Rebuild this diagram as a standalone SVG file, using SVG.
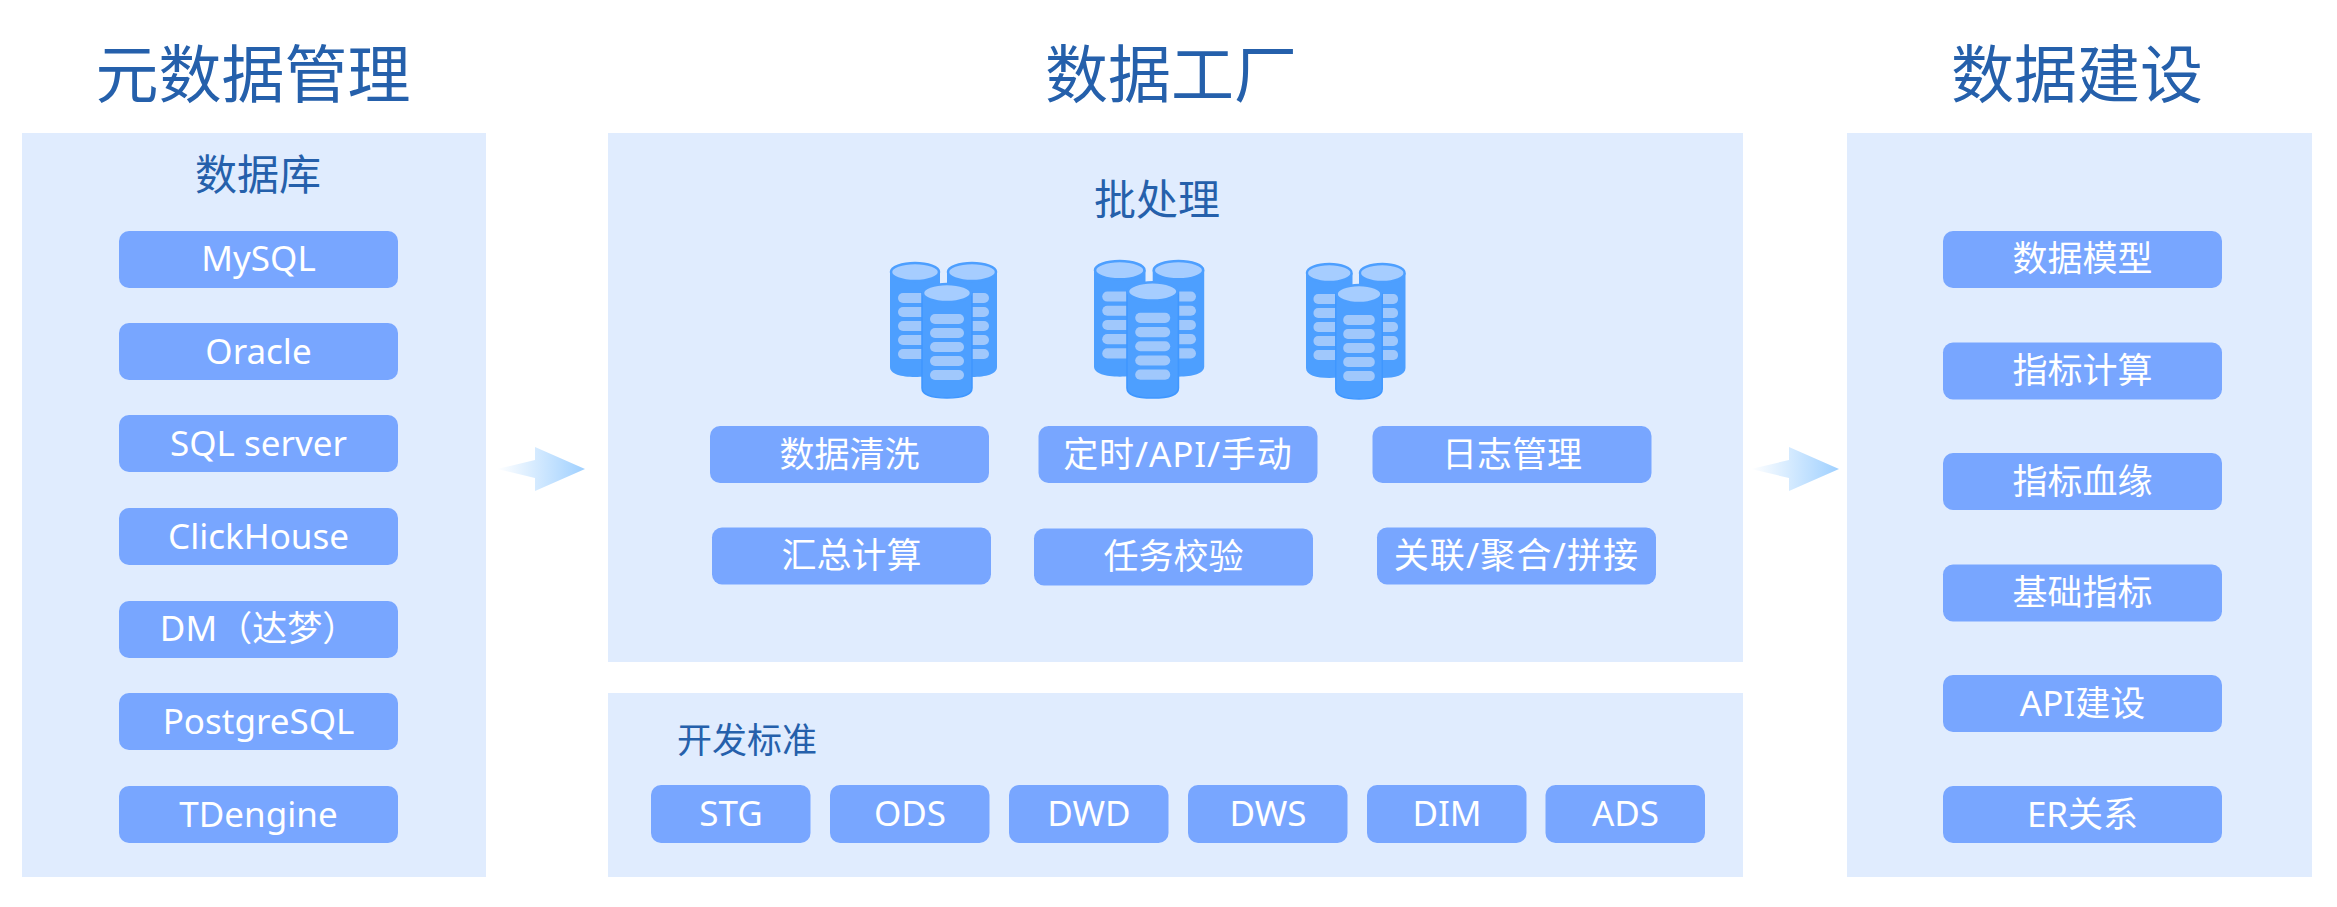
<svg xmlns="http://www.w3.org/2000/svg" width="2337" height="907" viewBox="0 0 2337 907">
<style>
text{font-family:"Noto Sans","Noto Sans CJK SC",sans-serif;text-anchor:middle}
.title{font-size:63px;fill:#2560ab;font-family:"Noto Sans CJK SC",sans-serif}
.sub{font-size:42px;fill:#2560ab;font-family:"Noto Sans CJK SC",sans-serif}
.sub2{font-size:35px;fill:#2560ab;font-family:"Noto Sans CJK SC",sans-serif}
.lbl{font-size:35px;fill:#fff}
.panel{fill:#e0ecfe}
.box{fill:#78a6ff}
.cyl{fill:#4d9fff}
.cylf{fill:#4d9fff;stroke:#3f97ff;stroke-width:1.5}
.top{fill:#a6cdff;stroke:#4d9fff;stroke-width:2.5}
.bar{fill:#a0c8fc}
</style>
<defs>
<linearGradient id="ag" x1="0" y1="0" x2="1" y2="0"><stop offset="0" stop-color="#fff"/><stop offset="1" stop-color="#9fd0ff"/></linearGradient>
<path id="arrow" d="M497 469L535 460V447L585 469L535 491V478Z" fill="url(#ag)"/>
<rect id="b" width="279" height="57" rx="10" class="box"/>
<rect id="s" width="159.500" height="58" rx="10" class="box"/>
<g id="backc">
<path class="cyl" d="M0 10V105C0 112 11 115 25 115S50 112 50 105V10Z"/>
<ellipse class="top" cx="25" cy="10" rx="24" ry="9"/>
<g class="bar"><rect x="8" y="31" width="34" height="10" rx="5"/><rect x="8" y="45" width="34" height="10" rx="5"/><rect x="8" y="59" width="34" height="10" rx="5"/><rect x="8" y="73" width="34" height="10" rx="5"/><rect x="8" y="87" width="34" height="10" rx="5"/></g>
</g>
<g id="db">
<use href="#backc" x="0" y="0"/>
<use href="#backc" x="57" y="0"/>
<path class="cylf" d="M32 31V126C32 133 43 136 57 136S82 133 82 126V31Z"/>
<ellipse class="top" cx="57" cy="31" rx="24" ry="9"/>
<g class="bar"><rect x="40" y="52" width="34" height="10" rx="5"/><rect x="40" y="66" width="34" height="10" rx="5"/><rect x="40" y="80" width="34" height="10" rx="5"/><rect x="40" y="94" width="34" height="10" rx="5"/><rect x="40" y="108" width="34" height="10" rx="5"/></g>
</g>
</defs>
<rect width="2337" height="907" fill="#fff"/>
<g id="panels">
<rect class="panel" x="22" y="133" width="464" height="744"/>
<rect class="panel" x="608" y="133" width="1135" height="529"/>
<rect class="panel" x="608" y="693" width="1135" height="184"/>
<rect class="panel" x="1847" y="133" width="465" height="744"/>
</g>
<g id="titles">
<text class="title" x="253" y="97">元数据管理</text>
<text class="title" x="1171" y="97">数据工厂</text>
<text class="title" x="2077" y="97">数据建设</text>
<text class="sub" x="258" y="190">数据库</text>
<text class="sub" x="1157" y="215">批处理</text>
<text class="sub2" x="747" y="753">开发标准</text>
</g>
<g id="connectors">
<use href="#arrow"/>
<use href="#arrow" x="1254"/>
</g>
<g id="n-mysql"><use href="#b" x="119" y="231"/><text class="lbl" x="258.500" y="271">MySQL</text></g>
<g id="n-oracle"><use href="#b" x="119" y="323"/><text class="lbl" x="258.500" y="364">Oracle</text></g>
<g id="n-sqlserver"><use href="#b" x="119" y="415"/><text class="lbl" x="258.500" y="456">SQL server</text></g>
<g id="n-clickhouse"><use href="#b" x="119" y="508"/><text class="lbl" x="258.500" y="549">ClickHouse</text></g>
<g id="n-dm"><use href="#b" x="119" y="601"/><text class="lbl" x="258.500" y="641">DM（达梦）</text></g>
<g id="n-postgresql"><use href="#b" x="119" y="693"/><text class="lbl" x="258.500" y="734">PostgreSQL</text></g>
<g id="n-tdengine"><use href="#b" x="119" y="786"/><text class="lbl" x="258.500" y="827">TDengine</text></g>
<g id="db1"><use href="#db" transform="translate(890 262)"/></g>
<g id="db2"><use href="#db" transform="translate(1094 260) scale(1.03 1.015)"/></g>
<g id="db3"><use href="#db" transform="translate(1306 263) scale(0.93 1)"/></g>
<g id="n-clean"><use href="#b" x="710" y="426"/><text class="lbl" x="849.500" y="467">数据清洗</text></g>
<g id="n-sched"><use href="#b" x="1038.500" y="426"/><text class="lbl" x="1178" y="467" letter-spacing="0.900">定时/API/手动</text></g>
<g id="n-log"><use href="#b" x="1372.500" y="426"/><text class="lbl" x="1512" y="467">日志管理</text></g>
<g id="n-sum"><use href="#b" x="712" y="527.500"/><text class="lbl" x="851.500" y="568">汇总计算</text></g>
<g id="n-check"><use href="#b" x="1034" y="528.500"/><text class="lbl" x="1173.500" y="569">任务校验</text></g>
<g id="n-join"><use href="#b" x="1377" y="527.500"/><text class="lbl" x="1516.500" y="568" letter-spacing="1.200">关联/聚合/拼接</text></g>
<g id="n-stg"><use href="#s" x="651" y="785"/><text class="lbl" x="731" y="826">STG</text></g>
<g id="n-ods"><use href="#s" x="830" y="785"/><text class="lbl" x="910" y="826">ODS</text></g>
<g id="n-dwd"><use href="#s" x="1009" y="785"/><text class="lbl" x="1089" y="826">DWD</text></g>
<g id="n-dws"><use href="#s" x="1188" y="785"/><text class="lbl" x="1268" y="826">DWS</text></g>
<g id="n-dim"><use href="#s" x="1367" y="785"/><text class="lbl" x="1447" y="826">DIM</text></g>
<g id="n-ads"><use href="#s" x="1545.500" y="785"/><text class="lbl" x="1625.500" y="826">ADS</text></g>
<g id="n-model"><use href="#b" x="1943" y="231"/><text class="lbl" x="2082.500" y="271">数据模型</text></g>
<g id="n-calc"><use href="#b" x="1943" y="342.500"/><text class="lbl" x="2082.500" y="383">指标计算</text></g>
<g id="n-lineage"><use href="#b" x="1943" y="453"/><text class="lbl" x="2082.500" y="494">指标血缘</text></g>
<g id="n-base"><use href="#b" x="1943" y="564.500"/><text class="lbl" x="2082.500" y="605">基础指标</text></g>
<g id="n-api"><use href="#b" x="1943" y="675"/><text class="lbl" x="2082.500" y="716">API建设</text></g>
<g id="n-er"><use href="#b" x="1943" y="786"/><text class="lbl" x="2082.500" y="827">ER关系</text></g>
</svg>
